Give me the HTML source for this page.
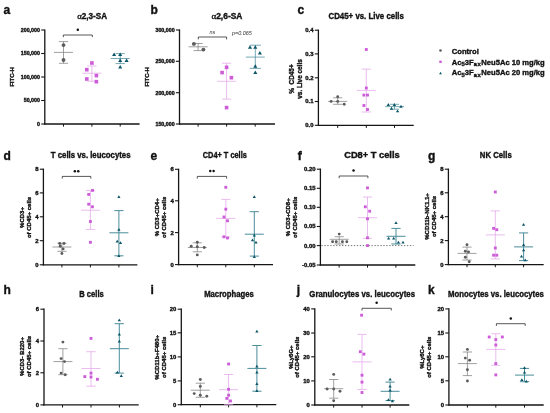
<!DOCTYPE html>
<html><head><meta charset="utf-8"><style>
html,body{margin:0;padding:0;background:#fff;width:550px;height:413px;overflow:hidden;}
svg{display:block;font-family:"Liberation Sans", sans-serif;will-change:transform;}
text{stroke:#111;stroke-width:0.36px;paint-order:stroke;}
</style></head><body>
<svg width="550" height="413" viewBox="0 0 550 413">
<rect width="550" height="413" fill="#fff"/>
<text x="3.6" y="13.6" font-size="12" text-anchor="start" font-weight="bold" font-style="normal" fill="#111111">a</text>
<text x="77.2" y="19.3" font-size="8.3" font-weight="bold" fill="#111111" textLength="29.8" lengthAdjust="spacingAndGlyphs"><tspan font-family="Liberation Serif" font-weight="normal" font-size="9">&#945;</tspan>2,3-SA</text>
<line x1="44.8" y1="29.4" x2="44.8" y2="124.6" stroke="#151515" stroke-width="1.3"/>
<line x1="44.2" y1="124" x2="139.6" y2="124" stroke="#151515" stroke-width="1.3"/>
<line x1="41.2" y1="30" x2="44.8" y2="30" stroke="#151515" stroke-width="1.1"/>
<text x="39.9" y="31.9" font-size="5.3" text-anchor="end" font-weight="bold" font-style="normal" fill="#111111">200,000</text>
<line x1="41.2" y1="53.5" x2="44.8" y2="53.5" stroke="#151515" stroke-width="1.1"/>
<text x="39.9" y="55.4" font-size="5.3" text-anchor="end" font-weight="bold" font-style="normal" fill="#111111">150,000</text>
<line x1="41.2" y1="77" x2="44.8" y2="77" stroke="#151515" stroke-width="1.1"/>
<text x="39.9" y="78.9" font-size="5.3" text-anchor="end" font-weight="bold" font-style="normal" fill="#111111">100,000</text>
<line x1="41.2" y1="100.5" x2="44.8" y2="100.5" stroke="#151515" stroke-width="1.1"/>
<text x="39.9" y="102.4" font-size="5.3" text-anchor="end" font-weight="bold" font-style="normal" fill="#111111">50,000</text>
<line x1="41.2" y1="124" x2="44.8" y2="124" stroke="#151515" stroke-width="1.1"/>
<text x="39.9" y="125.9" font-size="5.3" text-anchor="end" font-weight="bold" font-style="normal" fill="#111111">0</text>
<line x1="63.5" y1="124" x2="63.5" y2="126.6" stroke="#151515" stroke-width="1"/>
<line x1="91.9" y1="124" x2="91.9" y2="126.6" stroke="#151515" stroke-width="1"/>
<line x1="120.2" y1="124" x2="120.2" y2="126.6" stroke="#151515" stroke-width="1"/>
<text x="12.4" y="77" font-size="6" text-anchor="middle" font-weight="bold" font-style="normal" fill="#111111" transform="rotate(-90 12.4 77)" dominant-baseline="central">FITC-H</text>
<path d="M63.3 37.2 V35 H92.3 V37.2" fill="none" stroke="#262626" stroke-width="0.78"/>
<circle cx="77.8" cy="29.7" r="1.25" fill="#111"/>
<line x1="63.5" y1="41.6" x2="63.5" y2="63.3" stroke="#828282" stroke-width="0.75"/>
<line x1="58.9" y1="41.6" x2="68.1" y2="41.6" stroke="#828282" stroke-width="0.75"/>
<line x1="58.9" y1="63.3" x2="68.1" y2="63.3" stroke="#828282" stroke-width="0.75"/>
<line x1="54" y1="52.4" x2="73" y2="52.4" stroke="#828282" stroke-width="0.75"/>
<circle cx="63.5" cy="45.1" r="1.95" fill="#5c5c5c"/>
<circle cx="63.5" cy="60" r="1.95" fill="#5c5c5c"/>
<line x1="91.9" y1="66" x2="91.9" y2="81.2" stroke="#e3a6ea" stroke-width="0.75"/>
<line x1="87.3" y1="66" x2="96.5" y2="66" stroke="#e3a6ea" stroke-width="0.75"/>
<line x1="87.3" y1="81.2" x2="96.5" y2="81.2" stroke="#e3a6ea" stroke-width="0.75"/>
<line x1="82.4" y1="73.2" x2="101.4" y2="73.2" stroke="#e3a6ea" stroke-width="0.75"/>
<rect x="90.09" y="61.2" width="3.61" height="3.61" fill="#cc5cd8"/>
<rect x="84.99" y="67.89" width="3.61" height="3.61" fill="#cc5cd8"/>
<rect x="94.59" y="73.79" width="3.61" height="3.61" fill="#cc5cd8"/>
<rect x="84.99" y="77.19" width="3.61" height="3.61" fill="#cc5cd8"/>
<rect x="94.59" y="79.89" width="3.61" height="3.61" fill="#cc5cd8"/>
<line x1="120.2" y1="53.6" x2="120.2" y2="63.6" stroke="#4b8d9b" stroke-width="0.75"/>
<line x1="115.6" y1="53.6" x2="124.8" y2="53.6" stroke="#4b8d9b" stroke-width="0.75"/>
<line x1="115.6" y1="63.6" x2="124.8" y2="63.6" stroke="#4b8d9b" stroke-width="0.75"/>
<line x1="110.7" y1="58.5" x2="129.7" y2="58.5" stroke="#4b8d9b" stroke-width="0.75"/>
<polygon points="114.1,52.41 112.05,55.89 116.15,55.89" fill="#0d5667"/>
<polygon points="120.2,52.41 118.15,55.89 122.25,55.89" fill="#0d5667"/>
<polygon points="120.2,58.41 118.15,61.89 122.25,61.89" fill="#0d5667"/>
<polygon points="126.6,58.41 124.55,61.89 128.65,61.89" fill="#0d5667"/>
<polygon points="120.2,64.91 118.15,68.39 122.25,68.39" fill="#0d5667"/>
<text x="150.6" y="13.6" font-size="12" text-anchor="start" font-weight="bold" font-style="normal" fill="#111111">b</text>
<text x="211.4" y="19.3" font-size="8.3" font-weight="bold" fill="#111111" textLength="31" lengthAdjust="spacingAndGlyphs"><tspan font-family="Liberation Serif" font-weight="normal" font-size="9">&#945;</tspan>2,6-SA</text>
<line x1="179.5" y1="29.4" x2="179.5" y2="124.6" stroke="#151515" stroke-width="1.3"/>
<line x1="178.9" y1="124" x2="275" y2="124" stroke="#151515" stroke-width="1.3"/>
<line x1="175.9" y1="30" x2="179.5" y2="30" stroke="#151515" stroke-width="1.1"/>
<text x="174.6" y="31.9" font-size="5.3" text-anchor="end" font-weight="bold" font-style="normal" fill="#111111">300,000</text>
<line x1="175.9" y1="61.3" x2="179.5" y2="61.3" stroke="#151515" stroke-width="1.1"/>
<text x="174.6" y="63.2" font-size="5.3" text-anchor="end" font-weight="bold" font-style="normal" fill="#111111">250,000</text>
<line x1="175.9" y1="92.7" x2="179.5" y2="92.7" stroke="#151515" stroke-width="1.1"/>
<text x="174.6" y="94.6" font-size="5.3" text-anchor="end" font-weight="bold" font-style="normal" fill="#111111">200,000</text>
<line x1="175.9" y1="124" x2="179.5" y2="124" stroke="#151515" stroke-width="1.1"/>
<text x="174.6" y="125.9" font-size="5.3" text-anchor="end" font-weight="bold" font-style="normal" fill="#111111">150,000</text>
<line x1="198.1" y1="124" x2="198.1" y2="126.6" stroke="#151515" stroke-width="1"/>
<line x1="226.6" y1="124" x2="226.6" y2="126.6" stroke="#151515" stroke-width="1"/>
<line x1="255.2" y1="124" x2="255.2" y2="126.6" stroke="#151515" stroke-width="1"/>
<text x="147.4" y="77" font-size="6" text-anchor="middle" font-weight="bold" font-style="normal" fill="#111111" transform="rotate(-90 147.4 77)" dominant-baseline="central">FITC-H</text>
<path d="M198.3 39.4 V37 H226.6 V39.4" fill="none" stroke="#262626" stroke-width="0.78"/>
<text x="212.4" y="33.6" font-size="5.4" text-anchor="middle" font-weight="normal" font-style="italic" fill="#333" style="stroke:none">ns</text>
<text x="232" y="35.2" font-size="5.4" text-anchor="start" font-weight="normal" font-style="italic" fill="#333" style="stroke:none">p=0.065</text>
<line x1="198.1" y1="43.5" x2="198.1" y2="50.6" stroke="#828282" stroke-width="0.75"/>
<line x1="193.5" y1="43.5" x2="202.7" y2="43.5" stroke="#828282" stroke-width="0.75"/>
<line x1="193.5" y1="50.6" x2="202.7" y2="50.6" stroke="#828282" stroke-width="0.75"/>
<line x1="188.6" y1="46.8" x2="207.6" y2="46.8" stroke="#828282" stroke-width="0.75"/>
<circle cx="193.9" cy="43.9" r="1.95" fill="#5c5c5c"/>
<circle cx="203.4" cy="49.6" r="1.95" fill="#5c5c5c"/>
<line x1="226.6" y1="63.2" x2="226.6" y2="99.1" stroke="#e3a6ea" stroke-width="0.75"/>
<line x1="222" y1="63.2" x2="231.2" y2="63.2" stroke="#e3a6ea" stroke-width="0.75"/>
<line x1="222" y1="99.1" x2="231.2" y2="99.1" stroke="#e3a6ea" stroke-width="0.75"/>
<line x1="217.1" y1="81.3" x2="236.1" y2="81.3" stroke="#e3a6ea" stroke-width="0.75"/>
<rect x="224.79" y="65.49" width="3.61" height="3.61" fill="#cc5cd8"/>
<rect x="220.29" y="70.79" width="3.61" height="3.61" fill="#cc5cd8"/>
<rect x="229.59" y="75.89" width="3.61" height="3.61" fill="#cc5cd8"/>
<rect x="224.79" y="105.79" width="3.61" height="3.61" fill="#cc5cd8"/>
<line x1="255.3" y1="45.2" x2="255.3" y2="68.4" stroke="#4b8d9b" stroke-width="0.75"/>
<line x1="249.7" y1="45.2" x2="260.9" y2="45.2" stroke="#4b8d9b" stroke-width="0.75"/>
<line x1="249.7" y1="68.4" x2="260.9" y2="68.4" stroke="#4b8d9b" stroke-width="0.75"/>
<line x1="245.8" y1="57.1" x2="264.8" y2="57.1" stroke="#4b8d9b" stroke-width="0.75"/>
<polygon points="250,45.21 247.95,48.69 252.05,48.69" fill="#0d5667"/>
<polygon points="255.3,45.21 253.25,48.69 257.35,48.69" fill="#0d5667"/>
<polygon points="259.9,50.91 257.85,54.39 261.95,54.39" fill="#0d5667"/>
<polygon points="255.3,64.21 253.25,67.69 257.35,67.69" fill="#0d5667"/>
<polygon points="255.3,70.61 253.25,74.09 257.35,74.09" fill="#0d5667"/>
<text x="297.6" y="13.6" font-size="12" text-anchor="start" font-weight="bold" font-style="normal" fill="#111111">c</text>
<text x="328.5" y="18.8" font-size="8.3" font-weight="bold" fill="#111111" textLength="75.4" lengthAdjust="spacingAndGlyphs">CD45+ vs. Live cells</text>
<line x1="318.4" y1="29.6" x2="318.4" y2="125.9" stroke="#151515" stroke-width="1.3"/>
<line x1="317.8" y1="125.3" x2="413.7" y2="125.3" stroke="#151515" stroke-width="1.3"/>
<line x1="314.8" y1="30.2" x2="318.4" y2="30.2" stroke="#151515" stroke-width="1.1"/>
<text x="313.5" y="32.1" font-size="5.9" text-anchor="end" font-weight="bold" font-style="normal" fill="#111111">0.4</text>
<line x1="314.8" y1="53.9" x2="318.4" y2="53.9" stroke="#151515" stroke-width="1.1"/>
<text x="313.5" y="55.8" font-size="5.9" text-anchor="end" font-weight="bold" font-style="normal" fill="#111111">0.3</text>
<line x1="314.8" y1="77.8" x2="318.4" y2="77.8" stroke="#151515" stroke-width="1.1"/>
<text x="313.5" y="79.7" font-size="5.9" text-anchor="end" font-weight="bold" font-style="normal" fill="#111111">0.2</text>
<line x1="314.8" y1="101.5" x2="318.4" y2="101.5" stroke="#151515" stroke-width="1.1"/>
<text x="313.5" y="103.4" font-size="5.9" text-anchor="end" font-weight="bold" font-style="normal" fill="#111111">0.1</text>
<line x1="314.8" y1="125.3" x2="318.4" y2="125.3" stroke="#151515" stroke-width="1.1"/>
<text x="313.5" y="127.2" font-size="5.9" text-anchor="end" font-weight="bold" font-style="normal" fill="#111111">0.0</text>
<line x1="337.7" y1="125.3" x2="337.7" y2="127.9" stroke="#151515" stroke-width="1"/>
<line x1="366.3" y1="125.3" x2="366.3" y2="127.9" stroke="#151515" stroke-width="1"/>
<line x1="394.5" y1="125.3" x2="394.5" y2="127.9" stroke="#151515" stroke-width="1"/>
<text x="291.6" y="79" font-size="6.4" text-anchor="middle" font-weight="bold" font-style="normal" fill="#111111" transform="rotate(-90 291.6 79)" dominant-baseline="central">%&#160;&#160;CD45+</text>
<text x="299.4" y="79" font-size="6.4" text-anchor="middle" font-weight="bold" font-style="normal" fill="#111111" transform="rotate(-90 299.4 79)" dominant-baseline="central">vs. Live cells</text>
<line x1="337.7" y1="97.8" x2="337.7" y2="104.3" stroke="#828282" stroke-width="0.75"/>
<line x1="333.1" y1="97.8" x2="342.3" y2="97.8" stroke="#828282" stroke-width="0.75"/>
<line x1="333.1" y1="104.3" x2="342.3" y2="104.3" stroke="#828282" stroke-width="0.75"/>
<line x1="328.2" y1="101.4" x2="347.2" y2="101.4" stroke="#828282" stroke-width="0.75"/>
<circle cx="337.7" cy="96.8" r="1.45" fill="#5c5c5c"/>
<circle cx="331.1" cy="101.4" r="1.45" fill="#5c5c5c"/>
<circle cx="337.7" cy="101.4" r="1.45" fill="#5c5c5c"/>
<circle cx="344.2" cy="104.3" r="1.45" fill="#5c5c5c"/>
<line x1="366.3" y1="69.1" x2="366.3" y2="112" stroke="#e3a6ea" stroke-width="0.75"/>
<line x1="361.7" y1="69.1" x2="370.9" y2="69.1" stroke="#e3a6ea" stroke-width="0.75"/>
<line x1="361.7" y1="112" x2="370.9" y2="112" stroke="#e3a6ea" stroke-width="0.75"/>
<line x1="356.8" y1="90.4" x2="375.8" y2="90.4" stroke="#e3a6ea" stroke-width="0.75"/>
<rect x="364.88" y="48.08" width="2.85" height="2.85" fill="#cc5cd8"/>
<rect x="364.88" y="86.58" width="2.85" height="2.85" fill="#cc5cd8"/>
<rect x="362.47" y="93.67" width="2.85" height="2.85" fill="#cc5cd8"/>
<rect x="366.07" y="93.67" width="2.85" height="2.85" fill="#cc5cd8"/>
<rect x="362.47" y="104.08" width="2.85" height="2.85" fill="#cc5cd8"/>
<rect x="366.07" y="108.08" width="2.85" height="2.85" fill="#cc5cd8"/>
<line x1="394.5" y1="104.3" x2="394.5" y2="109.2" stroke="#4b8d9b" stroke-width="0.75"/>
<line x1="389.9" y1="104.3" x2="399.1" y2="104.3" stroke="#4b8d9b" stroke-width="0.75"/>
<line x1="389.9" y1="109.2" x2="399.1" y2="109.2" stroke="#4b8d9b" stroke-width="0.75"/>
<line x1="385" y1="106.6" x2="404" y2="106.6" stroke="#4b8d9b" stroke-width="0.75"/>
<polygon points="388.3,103.09 386.62,105.94 389.98,105.94" fill="#0d5667"/>
<polygon points="394.4,103.09 392.72,105.94 396.08,105.94" fill="#0d5667"/>
<polygon points="401,104.79 399.32,107.64 402.68,107.64" fill="#0d5667"/>
<polygon points="391.5,106.79 389.82,109.64 393.18,109.64" fill="#0d5667"/>
<polygon points="397.6,109.49 395.92,112.34 399.28,112.34" fill="#0d5667"/>
<circle cx="440.5" cy="50.5" r="1.3" fill="#5c5c5c"/>
<rect x="439.3" y="60.6" width="2.4" height="2.4" fill="#cc5cd8"/>
<polygon points="440.5,71.77 439.1,74.15 441.9,74.15" fill="#0d5667"/>
<text x="451.8" y="53.8" font-size="7.6" text-anchor="start" font-weight="bold" font-style="normal" fill="#111111">Control</text>
<text x="451.8" y="64.5" font-size="7.6" font-weight="bold" fill="#111111">Ac<tspan font-size="5.9" dy="1.9">5</tspan><tspan dy="-1.9">3F</tspan><tspan font-size="5.9" dy="1.9" letter-spacing="0.55">ax</tspan><tspan dy="-1.9">Neu5Ac 10 mg/kg</tspan></text>
<text x="451.8" y="75.4" font-size="7.6" font-weight="bold" fill="#111111">Ac<tspan font-size="5.9" dy="1.9">5</tspan><tspan dy="-1.9">3F</tspan><tspan font-size="5.9" dy="1.9" letter-spacing="0.55">ax</tspan><tspan dy="-1.9">Neu5Ac 20 mg/kg</tspan></text>
<text x="3.6" y="159.5" font-size="12" text-anchor="start" font-weight="bold" font-style="normal" fill="#111111">d</text>
<text x="50.8" y="157.6" font-size="8.3" font-weight="bold" fill="#111111" textLength="79.7" lengthAdjust="spacingAndGlyphs">T cells vs. leucocytes</text>
<line x1="43.4" y1="168.6" x2="43.4" y2="265.4" stroke="#151515" stroke-width="1.3"/>
<line x1="42.8" y1="264.8" x2="137.4" y2="264.8" stroke="#151515" stroke-width="1.3"/>
<line x1="39.8" y1="169.2" x2="43.4" y2="169.2" stroke="#151515" stroke-width="1.1"/>
<text x="38.5" y="171.1" font-size="5.9" text-anchor="end" font-weight="bold" font-style="normal" fill="#111111">8</text>
<line x1="39.8" y1="192.9" x2="43.4" y2="192.9" stroke="#151515" stroke-width="1.1"/>
<text x="38.5" y="194.8" font-size="5.9" text-anchor="end" font-weight="bold" font-style="normal" fill="#111111">6</text>
<line x1="39.8" y1="216.8" x2="43.4" y2="216.8" stroke="#151515" stroke-width="1.1"/>
<text x="38.5" y="218.7" font-size="5.9" text-anchor="end" font-weight="bold" font-style="normal" fill="#111111">4</text>
<line x1="39.8" y1="240.7" x2="43.4" y2="240.7" stroke="#151515" stroke-width="1.1"/>
<text x="38.5" y="242.6" font-size="5.9" text-anchor="end" font-weight="bold" font-style="normal" fill="#111111">2</text>
<line x1="39.8" y1="264.8" x2="43.4" y2="264.8" stroke="#151515" stroke-width="1.1"/>
<text x="38.5" y="266.7" font-size="5.9" text-anchor="end" font-weight="bold" font-style="normal" fill="#111111">0</text>
<line x1="61.9" y1="264.8" x2="61.9" y2="267.4" stroke="#151515" stroke-width="1"/>
<line x1="90.4" y1="264.8" x2="90.4" y2="267.4" stroke="#151515" stroke-width="1"/>
<line x1="118.9" y1="264.8" x2="118.9" y2="267.4" stroke="#151515" stroke-width="1"/>
<text x="21.6" y="217.5" font-size="6" text-anchor="middle" font-weight="bold" font-style="normal" fill="#111111" transform="rotate(-90 21.6 217.5)" dominant-baseline="central">%CD3+</text>
<text x="28.6" y="217.5" font-size="6" text-anchor="middle" font-weight="bold" font-style="normal" fill="#111111" transform="rotate(-90 28.6 217.5)" dominant-baseline="central">of CD45+ cells</text>
<path d="M62.3 178.6 V176.4 H90.8 V178.6" fill="none" stroke="#262626" stroke-width="0.78"/>
<circle cx="74.85" cy="171.2" r="1.25" fill="#111"/>
<circle cx="78.25" cy="171.2" r="1.25" fill="#111"/>
<line x1="61.9" y1="243.2" x2="61.9" y2="251.3" stroke="#828282" stroke-width="0.75"/>
<line x1="57.3" y1="243.2" x2="66.5" y2="243.2" stroke="#828282" stroke-width="0.75"/>
<line x1="57.3" y1="251.3" x2="66.5" y2="251.3" stroke="#828282" stroke-width="0.75"/>
<line x1="52.4" y1="247" x2="71.4" y2="247" stroke="#828282" stroke-width="0.75"/>
<circle cx="59.7" cy="243.5" r="1.45" fill="#5c5c5c"/>
<circle cx="64" cy="243.5" r="1.45" fill="#5c5c5c"/>
<circle cx="60.2" cy="246.3" r="1.45" fill="#5c5c5c"/>
<circle cx="63.1" cy="248.9" r="1.45" fill="#5c5c5c"/>
<circle cx="61.9" cy="253.5" r="1.45" fill="#5c5c5c"/>
<line x1="90.4" y1="190.6" x2="90.4" y2="229.4" stroke="#e3a6ea" stroke-width="0.75"/>
<line x1="85.8" y1="190.6" x2="95" y2="190.6" stroke="#e3a6ea" stroke-width="0.75"/>
<line x1="85.8" y1="229.4" x2="95" y2="229.4" stroke="#e3a6ea" stroke-width="0.75"/>
<line x1="80.9" y1="210.2" x2="99.9" y2="210.2" stroke="#e3a6ea" stroke-width="0.75"/>
<rect x="91.08" y="188.97" width="2.85" height="2.85" fill="#cc5cd8"/>
<rect x="87.28" y="192.97" width="2.85" height="2.85" fill="#cc5cd8"/>
<rect x="87.28" y="202.77" width="2.85" height="2.85" fill="#cc5cd8"/>
<rect x="90.98" y="205.38" width="2.85" height="2.85" fill="#cc5cd8"/>
<rect x="88.98" y="220.07" width="2.85" height="2.85" fill="#cc5cd8"/>
<rect x="88.98" y="240.88" width="2.85" height="2.85" fill="#cc5cd8"/>
<line x1="118.9" y1="210.6" x2="118.9" y2="255.8" stroke="#4b8d9b" stroke-width="1"/>
<line x1="114.3" y1="210.6" x2="123.5" y2="210.6" stroke="#4b8d9b" stroke-width="1"/>
<line x1="114.3" y1="255.8" x2="123.5" y2="255.8" stroke="#4b8d9b" stroke-width="1"/>
<line x1="109.4" y1="232.8" x2="128.4" y2="232.8" stroke="#4b8d9b" stroke-width="1"/>
<polygon points="118.9,195.14 117.27,197.91 120.53,197.91" fill="#0d5667"/>
<polygon points="118.9,228.04 117.27,230.81 120.53,230.81" fill="#0d5667"/>
<polygon points="117.2,239.84 115.57,242.61 118.83,242.61" fill="#0d5667"/>
<polygon points="120.5,241.14 118.87,243.91 122.13,243.91" fill="#0d5667"/>
<polygon points="118.9,254.14 117.27,256.91 120.53,256.91" fill="#0d5667"/>
<text x="150.4" y="159.5" font-size="12" text-anchor="start" font-weight="bold" font-style="normal" fill="#111111">e</text>
<text x="202.8" y="157.6" font-size="8.3" font-weight="bold" fill="#111111" textLength="44" lengthAdjust="spacingAndGlyphs">CD4+ T cells</text>
<line x1="178.6" y1="168.7" x2="178.6" y2="265.2" stroke="#151515" stroke-width="1.3"/>
<line x1="178" y1="264.6" x2="273" y2="264.6" stroke="#151515" stroke-width="1.3"/>
<line x1="175" y1="169.3" x2="178.6" y2="169.3" stroke="#151515" stroke-width="1.1"/>
<text x="173.7" y="171.2" font-size="5.9" text-anchor="end" font-weight="bold" font-style="normal" fill="#111111">6</text>
<line x1="175" y1="200.8" x2="178.6" y2="200.8" stroke="#151515" stroke-width="1.1"/>
<text x="173.7" y="202.7" font-size="5.9" text-anchor="end" font-weight="bold" font-style="normal" fill="#111111">4</text>
<line x1="175" y1="232.6" x2="178.6" y2="232.6" stroke="#151515" stroke-width="1.1"/>
<text x="173.7" y="234.5" font-size="5.9" text-anchor="end" font-weight="bold" font-style="normal" fill="#111111">2</text>
<line x1="175" y1="264.6" x2="178.6" y2="264.6" stroke="#151515" stroke-width="1.1"/>
<text x="173.7" y="266.5" font-size="5.9" text-anchor="end" font-weight="bold" font-style="normal" fill="#111111">0</text>
<line x1="197.3" y1="264.6" x2="197.3" y2="267.2" stroke="#151515" stroke-width="1"/>
<line x1="225.8" y1="264.6" x2="225.8" y2="267.2" stroke="#151515" stroke-width="1"/>
<line x1="254.3" y1="264.6" x2="254.3" y2="267.2" stroke="#151515" stroke-width="1"/>
<text x="157" y="217.3" font-size="6" text-anchor="middle" font-weight="bold" font-style="normal" fill="#111111" transform="rotate(-90 157 217.3)" dominant-baseline="central">% CD3+CD4+</text>
<text x="163.6" y="217.3" font-size="6" text-anchor="middle" font-weight="bold" font-style="normal" fill="#111111" transform="rotate(-90 163.6 217.3)" dominant-baseline="central">of CD45+ cells</text>
<path d="M197.3 178.6 V176.4 H226.6 V178.6" fill="none" stroke="#262626" stroke-width="0.78"/>
<circle cx="210.25" cy="170.9" r="1.25" fill="#111"/>
<circle cx="213.65" cy="170.9" r="1.25" fill="#111"/>
<line x1="197.3" y1="242.8" x2="197.3" y2="251.8" stroke="#828282" stroke-width="0.75"/>
<line x1="192.7" y1="242.8" x2="201.9" y2="242.8" stroke="#828282" stroke-width="0.75"/>
<line x1="192.7" y1="251.8" x2="201.9" y2="251.8" stroke="#828282" stroke-width="0.75"/>
<line x1="187.8" y1="247.5" x2="206.8" y2="247.5" stroke="#828282" stroke-width="0.75"/>
<circle cx="197.3" cy="242.3" r="1.45" fill="#5c5c5c"/>
<circle cx="191.2" cy="246.3" r="1.45" fill="#5c5c5c"/>
<circle cx="197.3" cy="246.8" r="1.45" fill="#5c5c5c"/>
<circle cx="204.2" cy="247.5" r="1.45" fill="#5c5c5c"/>
<circle cx="197.3" cy="254.9" r="1.45" fill="#5c5c5c"/>
<line x1="225.8" y1="199.4" x2="225.8" y2="237.1" stroke="#e3a6ea" stroke-width="0.75"/>
<line x1="221.2" y1="199.4" x2="230.4" y2="199.4" stroke="#e3a6ea" stroke-width="0.75"/>
<line x1="221.2" y1="237.1" x2="230.4" y2="237.1" stroke="#e3a6ea" stroke-width="0.75"/>
<line x1="216.3" y1="218.4" x2="235.3" y2="218.4" stroke="#e3a6ea" stroke-width="0.75"/>
<rect x="224.38" y="185.88" width="2.85" height="2.85" fill="#cc5cd8"/>
<rect x="224.38" y="207.77" width="2.85" height="2.85" fill="#cc5cd8"/>
<rect x="222.57" y="215.57" width="2.85" height="2.85" fill="#cc5cd8"/>
<rect x="226.07" y="219.38" width="2.85" height="2.85" fill="#cc5cd8"/>
<rect x="222.57" y="235.38" width="2.85" height="2.85" fill="#cc5cd8"/>
<rect x="226.07" y="236.57" width="2.85" height="2.85" fill="#cc5cd8"/>
<line x1="254.3" y1="211.7" x2="254.3" y2="256.1" stroke="#4b8d9b" stroke-width="1"/>
<line x1="249.7" y1="211.7" x2="258.9" y2="211.7" stroke="#4b8d9b" stroke-width="1"/>
<line x1="249.7" y1="256.1" x2="258.9" y2="256.1" stroke="#4b8d9b" stroke-width="1"/>
<line x1="244.8" y1="234.2" x2="263.8" y2="234.2" stroke="#4b8d9b" stroke-width="1"/>
<polygon points="254.3,195.14 252.67,197.91 255.93,197.91" fill="#0d5667"/>
<polygon points="254.3,233.74 252.67,236.51 255.93,236.51" fill="#0d5667"/>
<polygon points="252.5,238.54 250.87,241.31 254.13,241.31" fill="#0d5667"/>
<polygon points="256,240.64 254.37,243.41 257.63,243.41" fill="#0d5667"/>
<polygon points="254.3,255.34 252.67,258.11 255.93,258.11" fill="#0d5667"/>
<text x="297.8" y="159.5" font-size="12" text-anchor="start" font-weight="bold" font-style="normal" fill="#111111">f</text>
<text x="344.2" y="157.6" font-size="8.3" font-weight="bold" fill="#111111" textLength="55.5" lengthAdjust="spacingAndGlyphs">CD8+ T cells</text>
<line x1="320.4" y1="168.6" x2="320.4" y2="265.6" stroke="#151515" stroke-width="1.3"/>
<line x1="319.8" y1="265" x2="415.3" y2="265" stroke="#151515" stroke-width="1.3"/>
<line x1="316.8" y1="169.2" x2="320.4" y2="169.2" stroke="#151515" stroke-width="1.1"/>
<text x="315.5" y="171.1" font-size="5.9" text-anchor="end" font-weight="bold" font-style="normal" fill="#111111">0.20</text>
<line x1="316.8" y1="188.3" x2="320.4" y2="188.3" stroke="#151515" stroke-width="1.1"/>
<text x="315.5" y="190.2" font-size="5.9" text-anchor="end" font-weight="bold" font-style="normal" fill="#111111">0.15</text>
<line x1="316.8" y1="207.3" x2="320.4" y2="207.3" stroke="#151515" stroke-width="1.1"/>
<text x="315.5" y="209.2" font-size="5.9" text-anchor="end" font-weight="bold" font-style="normal" fill="#111111">0.10</text>
<line x1="316.8" y1="226.5" x2="320.4" y2="226.5" stroke="#151515" stroke-width="1.1"/>
<text x="315.5" y="228.4" font-size="5.9" text-anchor="end" font-weight="bold" font-style="normal" fill="#111111">0.05</text>
<line x1="316.8" y1="245.6" x2="320.4" y2="245.6" stroke="#151515" stroke-width="1.1"/>
<text x="315.5" y="247.5" font-size="5.9" text-anchor="end" font-weight="bold" font-style="normal" fill="#111111">0.00</text>
<line x1="316.8" y1="265" x2="320.4" y2="265" stroke="#151515" stroke-width="1.1"/>
<text x="315.5" y="266.9" font-size="5.9" text-anchor="end" font-weight="bold" font-style="normal" fill="#111111">-0.05</text>
<line x1="339.1" y1="265" x2="339.1" y2="267.6" stroke="#151515" stroke-width="1"/>
<line x1="367.5" y1="265" x2="367.5" y2="267.6" stroke="#151515" stroke-width="1"/>
<line x1="395.9" y1="265" x2="395.9" y2="267.6" stroke="#151515" stroke-width="1"/>
<line x1="321.4" y1="245.6" x2="413.5" y2="245.6" stroke="#555" stroke-width="0.85" stroke-dasharray="1.3 1.65"/>
<text x="288.4" y="217.3" font-size="6" text-anchor="middle" font-weight="bold" font-style="normal" fill="#111111" transform="rotate(-90 288.4 217.3)" dominant-baseline="central">% CD3+CD8+</text>
<text x="295.2" y="217.3" font-size="6" text-anchor="middle" font-weight="bold" font-style="normal" fill="#111111" transform="rotate(-90 295.2 217.3)" dominant-baseline="central">of CD45+ cells</text>
<path d="M339.2 178.2 V176 H367.9 V178.2" fill="none" stroke="#262626" stroke-width="0.78"/>
<circle cx="353.55" cy="170.5" r="1.25" fill="#111"/>
<line x1="339.2" y1="236.7" x2="339.2" y2="244" stroke="#828282" stroke-width="0.75"/>
<line x1="334.6" y1="236.7" x2="343.8" y2="236.7" stroke="#828282" stroke-width="0.75"/>
<line x1="334.6" y1="244" x2="343.8" y2="244" stroke="#828282" stroke-width="0.75"/>
<line x1="329.7" y1="239.3" x2="348.7" y2="239.3" stroke="#828282" stroke-width="0.75"/>
<circle cx="339.2" cy="234.1" r="1.45" fill="#5c5c5c"/>
<circle cx="332.6" cy="241.7" r="1.45" fill="#5c5c5c"/>
<circle cx="336.3" cy="241.7" r="1.45" fill="#5c5c5c"/>
<circle cx="342.4" cy="241.7" r="1.45" fill="#5c5c5c"/>
<circle cx="346.8" cy="241.7" r="1.45" fill="#5c5c5c"/>
<line x1="367.5" y1="197" x2="367.5" y2="238.4" stroke="#e3a6ea" stroke-width="0.75"/>
<line x1="362.9" y1="197" x2="372.1" y2="197" stroke="#e3a6ea" stroke-width="0.75"/>
<line x1="362.9" y1="238.4" x2="372.1" y2="238.4" stroke="#e3a6ea" stroke-width="0.75"/>
<line x1="358" y1="217.7" x2="377" y2="217.7" stroke="#e3a6ea" stroke-width="0.75"/>
<rect x="366.07" y="186.47" width="2.85" height="2.85" fill="#cc5cd8"/>
<rect x="363.88" y="205.38" width="2.85" height="2.85" fill="#cc5cd8"/>
<rect x="368.27" y="209.77" width="2.85" height="2.85" fill="#cc5cd8"/>
<rect x="366.07" y="217.38" width="2.85" height="2.85" fill="#cc5cd8"/>
<rect x="366.07" y="236.38" width="2.85" height="2.85" fill="#cc5cd8"/>
<rect x="366.07" y="244.17" width="2.85" height="2.85" fill="#cc5cd8"/>
<line x1="396" y1="228.4" x2="396" y2="244" stroke="#4b8d9b" stroke-width="1"/>
<line x1="391.4" y1="228.4" x2="400.6" y2="228.4" stroke="#4b8d9b" stroke-width="1"/>
<line x1="391.4" y1="244" x2="400.6" y2="244" stroke="#4b8d9b" stroke-width="1"/>
<line x1="386.5" y1="236.3" x2="405.5" y2="236.3" stroke="#4b8d9b" stroke-width="1"/>
<polygon points="396,221.34 394.37,224.11 397.63,224.11" fill="#0d5667"/>
<polygon points="388.6,236.64 386.97,239.41 390.23,239.41" fill="#0d5667"/>
<polygon points="393.7,236.64 392.07,239.41 395.33,239.41" fill="#0d5667"/>
<polygon points="398.4,240.64 396.77,243.41 400.03,243.41" fill="#0d5667"/>
<polygon points="403,240.64 401.37,243.41 404.63,243.41" fill="#0d5667"/>
<text x="428" y="159.5" font-size="12" text-anchor="start" font-weight="bold" font-style="normal" fill="#111111">g</text>
<text x="479.8" y="157.6" font-size="8.3" font-weight="bold" fill="#111111" textLength="31.9" lengthAdjust="spacingAndGlyphs">NK Cells</text>
<line x1="448.4" y1="168.6" x2="448.4" y2="265.2" stroke="#151515" stroke-width="1.3"/>
<line x1="447.8" y1="264.6" x2="543.7" y2="264.6" stroke="#151515" stroke-width="1.3"/>
<line x1="444.8" y1="169.2" x2="448.4" y2="169.2" stroke="#151515" stroke-width="1.1"/>
<text x="443.5" y="171.1" font-size="5.9" text-anchor="end" font-weight="bold" font-style="normal" fill="#111111">8</text>
<line x1="444.8" y1="192.8" x2="448.4" y2="192.8" stroke="#151515" stroke-width="1.1"/>
<text x="443.5" y="194.7" font-size="5.9" text-anchor="end" font-weight="bold" font-style="normal" fill="#111111">6</text>
<line x1="444.8" y1="216.7" x2="448.4" y2="216.7" stroke="#151515" stroke-width="1.1"/>
<text x="443.5" y="218.6" font-size="5.9" text-anchor="end" font-weight="bold" font-style="normal" fill="#111111">4</text>
<line x1="444.8" y1="240.6" x2="448.4" y2="240.6" stroke="#151515" stroke-width="1.1"/>
<text x="443.5" y="242.5" font-size="5.9" text-anchor="end" font-weight="bold" font-style="normal" fill="#111111">2</text>
<line x1="444.8" y1="264.6" x2="448.4" y2="264.6" stroke="#151515" stroke-width="1.1"/>
<text x="443.5" y="266.5" font-size="5.9" text-anchor="end" font-weight="bold" font-style="normal" fill="#111111">0</text>
<line x1="467" y1="264.6" x2="467" y2="267.2" stroke="#151515" stroke-width="1"/>
<line x1="495.3" y1="264.6" x2="495.3" y2="267.2" stroke="#151515" stroke-width="1"/>
<line x1="523.6" y1="264.6" x2="523.6" y2="267.2" stroke="#151515" stroke-width="1"/>
<text x="427" y="216.5" font-size="6" text-anchor="middle" font-weight="bold" font-style="normal" fill="#111111" transform="rotate(-90 427 216.5)" dominant-baseline="central">%CD11b-NK1.1+</text>
<text x="433.6" y="216.5" font-size="6" text-anchor="middle" font-weight="bold" font-style="normal" fill="#111111" transform="rotate(-90 433.6 216.5)" dominant-baseline="central">of CD45+ cells</text>
<line x1="467" y1="247.1" x2="467" y2="260" stroke="#828282" stroke-width="0.75"/>
<line x1="462.4" y1="247.1" x2="471.6" y2="247.1" stroke="#828282" stroke-width="0.75"/>
<line x1="462.4" y1="260" x2="471.6" y2="260" stroke="#828282" stroke-width="0.75"/>
<line x1="457.5" y1="253.4" x2="476.5" y2="253.4" stroke="#828282" stroke-width="0.75"/>
<circle cx="467" cy="244.7" r="1.45" fill="#5c5c5c"/>
<circle cx="465.3" cy="251.2" r="1.45" fill="#5c5c5c"/>
<circle cx="468.5" cy="251.9" r="1.45" fill="#5c5c5c"/>
<circle cx="465.3" cy="257.3" r="1.45" fill="#5c5c5c"/>
<circle cx="469.2" cy="261.7" r="1.45" fill="#5c5c5c"/>
<line x1="495.3" y1="210.9" x2="495.3" y2="258.9" stroke="#e3a6ea" stroke-width="0.75"/>
<line x1="490.7" y1="210.9" x2="499.9" y2="210.9" stroke="#e3a6ea" stroke-width="0.75"/>
<line x1="490.7" y1="258.9" x2="499.9" y2="258.9" stroke="#e3a6ea" stroke-width="0.75"/>
<line x1="485.8" y1="234.9" x2="504.8" y2="234.9" stroke="#e3a6ea" stroke-width="0.75"/>
<rect x="493.88" y="190.57" width="2.85" height="2.85" fill="#cc5cd8"/>
<rect x="492.18" y="226.97" width="2.85" height="2.85" fill="#cc5cd8"/>
<rect x="495.38" y="228.27" width="2.85" height="2.85" fill="#cc5cd8"/>
<rect x="493.88" y="246.57" width="2.85" height="2.85" fill="#cc5cd8"/>
<rect x="492.18" y="253.77" width="2.85" height="2.85" fill="#cc5cd8"/>
<rect x="495.38" y="253.77" width="2.85" height="2.85" fill="#cc5cd8"/>
<line x1="523.6" y1="232.9" x2="523.6" y2="260.6" stroke="#4b8d9b" stroke-width="1"/>
<line x1="519" y1="232.9" x2="528.2" y2="232.9" stroke="#4b8d9b" stroke-width="1"/>
<line x1="519" y1="260.6" x2="528.2" y2="260.6" stroke="#4b8d9b" stroke-width="1"/>
<line x1="514.1" y1="246.9" x2="533.1" y2="246.9" stroke="#4b8d9b" stroke-width="1"/>
<polygon points="523.6,223.04 521.97,225.81 525.23,225.81" fill="#0d5667"/>
<polygon points="523.6,243.34 521.97,246.11 525.23,246.11" fill="#0d5667"/>
<polygon points="523.6,248.54 521.97,251.31 525.23,251.31" fill="#0d5667"/>
<polygon points="521.5,254.64 519.87,257.41 523.13,257.41" fill="#0d5667"/>
<polygon points="525.2,258.54 523.57,261.31 526.83,261.31" fill="#0d5667"/>
<text x="3.6" y="294.4" font-size="12" text-anchor="start" font-weight="bold" font-style="normal" fill="#111111">h</text>
<text x="79.3" y="297.3" font-size="8.3" font-weight="bold" fill="#111111" textLength="24.4" lengthAdjust="spacingAndGlyphs">B cells</text>
<line x1="44" y1="308.6" x2="44" y2="405.5" stroke="#151515" stroke-width="1.3"/>
<line x1="43.4" y1="404.9" x2="138.7" y2="404.9" stroke="#151515" stroke-width="1.3"/>
<line x1="40.4" y1="309.2" x2="44" y2="309.2" stroke="#151515" stroke-width="1.1"/>
<text x="39.1" y="311.1" font-size="5.9" text-anchor="end" font-weight="bold" font-style="normal" fill="#111111">6</text>
<line x1="40.4" y1="341" x2="44" y2="341" stroke="#151515" stroke-width="1.1"/>
<text x="39.1" y="342.9" font-size="5.9" text-anchor="end" font-weight="bold" font-style="normal" fill="#111111">4</text>
<line x1="40.4" y1="372.8" x2="44" y2="372.8" stroke="#151515" stroke-width="1.1"/>
<text x="39.1" y="374.7" font-size="5.9" text-anchor="end" font-weight="bold" font-style="normal" fill="#111111">2</text>
<line x1="40.4" y1="404.9" x2="44" y2="404.9" stroke="#151515" stroke-width="1.1"/>
<text x="39.1" y="406.8" font-size="5.9" text-anchor="end" font-weight="bold" font-style="normal" fill="#111111">0</text>
<line x1="62.5" y1="404.9" x2="62.5" y2="407.5" stroke="#151515" stroke-width="1"/>
<line x1="91" y1="404.9" x2="91" y2="407.5" stroke="#151515" stroke-width="1"/>
<line x1="119.4" y1="404.9" x2="119.4" y2="407.5" stroke="#151515" stroke-width="1"/>
<text x="22" y="356.5" font-size="6" text-anchor="middle" font-weight="bold" font-style="normal" fill="#111111" transform="rotate(-90 22 356.5)" dominant-baseline="central">%CD3- B220+</text>
<text x="28.8" y="356.5" font-size="6" text-anchor="middle" font-weight="bold" font-style="normal" fill="#111111" transform="rotate(-90 28.8 356.5)" dominant-baseline="central">of CD45+ cells</text>
<line x1="62.9" y1="348.7" x2="62.9" y2="374.7" stroke="#828282" stroke-width="0.75"/>
<line x1="58.3" y1="348.7" x2="67.5" y2="348.7" stroke="#828282" stroke-width="0.75"/>
<line x1="58.3" y1="374.7" x2="67.5" y2="374.7" stroke="#828282" stroke-width="0.75"/>
<line x1="53.4" y1="361.6" x2="72.4" y2="361.6" stroke="#828282" stroke-width="0.75"/>
<circle cx="62.9" cy="342.1" r="1.45" fill="#5c5c5c"/>
<circle cx="61.1" cy="358.6" r="1.45" fill="#5c5c5c"/>
<circle cx="64.5" cy="361.6" r="1.45" fill="#5c5c5c"/>
<circle cx="61.1" cy="373.1" r="1.45" fill="#5c5c5c"/>
<circle cx="65.2" cy="374.7" r="1.45" fill="#5c5c5c"/>
<line x1="91" y1="351.7" x2="91" y2="386.2" stroke="#e3a6ea" stroke-width="0.75"/>
<line x1="86.4" y1="351.7" x2="95.6" y2="351.7" stroke="#e3a6ea" stroke-width="0.75"/>
<line x1="86.4" y1="386.2" x2="95.6" y2="386.2" stroke="#e3a6ea" stroke-width="0.75"/>
<line x1="81.5" y1="368.5" x2="100.5" y2="368.5" stroke="#e3a6ea" stroke-width="0.75"/>
<rect x="89.58" y="336.97" width="2.85" height="2.85" fill="#cc5cd8"/>
<rect x="89.58" y="371.68" width="2.85" height="2.85" fill="#cc5cd8"/>
<rect x="83.38" y="375.18" width="2.85" height="2.85" fill="#cc5cd8"/>
<rect x="89.58" y="375.57" width="2.85" height="2.85" fill="#cc5cd8"/>
<rect x="95.98" y="377.88" width="2.85" height="2.85" fill="#cc5cd8"/>
<line x1="119.3" y1="323.7" x2="119.3" y2="373.1" stroke="#4b8d9b" stroke-width="1"/>
<line x1="114.7" y1="323.7" x2="123.9" y2="323.7" stroke="#4b8d9b" stroke-width="1"/>
<line x1="114.7" y1="373.1" x2="123.9" y2="373.1" stroke="#4b8d9b" stroke-width="1"/>
<line x1="109.8" y1="348.7" x2="128.8" y2="348.7" stroke="#4b8d9b" stroke-width="1"/>
<polygon points="119.3,318.54 117.67,321.31 120.93,321.31" fill="#0d5667"/>
<polygon points="119.3,332.84 117.67,335.61 120.93,335.61" fill="#0d5667"/>
<polygon points="119.3,339.74 117.67,342.51 120.93,342.51" fill="#0d5667"/>
<polygon points="117.4,370.74 115.77,373.51 119.03,373.51" fill="#0d5667"/>
<polygon points="121.3,374.24 119.67,377.01 122.93,377.01" fill="#0d5667"/>
<text x="150.4" y="294.4" font-size="12" text-anchor="start" font-weight="bold" font-style="normal" fill="#111111">i</text>
<text x="204.2" y="297.3" font-size="8.3" font-weight="bold" fill="#111111" textLength="49.5" lengthAdjust="spacingAndGlyphs">Macrophages</text>
<line x1="181.3" y1="308.6" x2="181.3" y2="405.3" stroke="#151515" stroke-width="1.3"/>
<line x1="180.7" y1="404.7" x2="276.3" y2="404.7" stroke="#151515" stroke-width="1.3"/>
<line x1="177.7" y1="309.2" x2="181.3" y2="309.2" stroke="#151515" stroke-width="1.1"/>
<text x="176.4" y="311.1" font-size="5.9" text-anchor="end" font-weight="bold" font-style="normal" fill="#111111">20</text>
<line x1="177.7" y1="332.8" x2="181.3" y2="332.8" stroke="#151515" stroke-width="1.1"/>
<text x="176.4" y="334.7" font-size="5.9" text-anchor="end" font-weight="bold" font-style="normal" fill="#111111">15</text>
<line x1="177.7" y1="356.9" x2="181.3" y2="356.9" stroke="#151515" stroke-width="1.1"/>
<text x="176.4" y="358.8" font-size="5.9" text-anchor="end" font-weight="bold" font-style="normal" fill="#111111">10</text>
<line x1="177.7" y1="380.9" x2="181.3" y2="380.9" stroke="#151515" stroke-width="1.1"/>
<text x="176.4" y="382.8" font-size="5.9" text-anchor="end" font-weight="bold" font-style="normal" fill="#111111">5</text>
<line x1="177.7" y1="404.7" x2="181.3" y2="404.7" stroke="#151515" stroke-width="1.1"/>
<text x="176.4" y="406.6" font-size="5.9" text-anchor="end" font-weight="bold" font-style="normal" fill="#111111">0</text>
<line x1="200.3" y1="404.7" x2="200.3" y2="407.3" stroke="#151515" stroke-width="1"/>
<line x1="228.6" y1="404.7" x2="228.6" y2="407.3" stroke="#151515" stroke-width="1"/>
<line x1="256.9" y1="404.7" x2="256.9" y2="407.3" stroke="#151515" stroke-width="1"/>
<text x="157" y="357.3" font-size="6" text-anchor="middle" font-weight="bold" font-style="normal" fill="#111111" transform="rotate(-90 157 357.3)" dominant-baseline="central">%CD11b+F480+</text>
<text x="163.6" y="357.3" font-size="6" text-anchor="middle" font-weight="bold" font-style="normal" fill="#111111" transform="rotate(-90 163.6 357.3)" dominant-baseline="central">of CD45+ cells</text>
<line x1="200.3" y1="383.2" x2="200.3" y2="397.3" stroke="#828282" stroke-width="0.75"/>
<line x1="195.7" y1="383.2" x2="204.9" y2="383.2" stroke="#828282" stroke-width="0.75"/>
<line x1="195.7" y1="397.3" x2="204.9" y2="397.3" stroke="#828282" stroke-width="0.75"/>
<line x1="190.8" y1="390.2" x2="209.8" y2="390.2" stroke="#828282" stroke-width="0.75"/>
<circle cx="200.3" cy="379.5" r="1.45" fill="#5c5c5c"/>
<circle cx="200.3" cy="386.4" r="1.45" fill="#5c5c5c"/>
<circle cx="194.2" cy="393.6" r="1.45" fill="#5c5c5c"/>
<circle cx="200.3" cy="395.2" r="1.45" fill="#5c5c5c"/>
<circle cx="206.8" cy="396.3" r="1.45" fill="#5c5c5c"/>
<line x1="228.6" y1="374.5" x2="228.6" y2="404.7" stroke="#e3a6ea" stroke-width="0.75"/>
<line x1="224" y1="374.5" x2="233.2" y2="374.5" stroke="#e3a6ea" stroke-width="0.75"/>
<line x1="224" y1="404.7" x2="233.2" y2="404.7" stroke="#e3a6ea" stroke-width="0.75"/>
<line x1="219.1" y1="389.7" x2="238.1" y2="389.7" stroke="#e3a6ea" stroke-width="0.75"/>
<rect x="227.17" y="362.57" width="2.85" height="2.85" fill="#cc5cd8"/>
<rect x="227.17" y="387.88" width="2.85" height="2.85" fill="#cc5cd8"/>
<rect x="227.17" y="393.77" width="2.85" height="2.85" fill="#cc5cd8"/>
<rect x="225.38" y="396.97" width="2.85" height="2.85" fill="#cc5cd8"/>
<rect x="229.07" y="399.57" width="2.85" height="2.85" fill="#cc5cd8"/>
<line x1="256.9" y1="345.5" x2="256.9" y2="391.2" stroke="#4b8d9b" stroke-width="1"/>
<line x1="252.3" y1="345.5" x2="261.5" y2="345.5" stroke="#4b8d9b" stroke-width="1"/>
<line x1="252.3" y1="391.2" x2="261.5" y2="391.2" stroke="#4b8d9b" stroke-width="1"/>
<line x1="247.4" y1="368.4" x2="266.4" y2="368.4" stroke="#4b8d9b" stroke-width="1"/>
<polygon points="256.9,329.64 255.27,332.41 258.53,332.41" fill="#0d5667"/>
<polygon points="256.9,364.74 255.27,367.51 258.53,367.51" fill="#0d5667"/>
<polygon points="256.9,370.64 255.27,373.41 258.53,373.41" fill="#0d5667"/>
<polygon points="256.9,382.14 255.27,384.91 258.53,384.91" fill="#0d5667"/>
<polygon points="256.9,389.14 255.27,391.91 258.53,391.91" fill="#0d5667"/>
<text x="296.8" y="294.4" font-size="12" text-anchor="start" font-weight="bold" font-style="normal" fill="#111111">j</text>
<text x="309.3" y="297.3" font-size="8.3" font-weight="bold" fill="#111111" textLength="105.7" lengthAdjust="spacingAndGlyphs">Granulocytes vs. leucocytes</text>
<line x1="314.8" y1="308.3" x2="314.8" y2="405.6" stroke="#151515" stroke-width="1.3"/>
<line x1="314.2" y1="405" x2="409.3" y2="405" stroke="#151515" stroke-width="1.3"/>
<line x1="311.2" y1="308.9" x2="314.8" y2="308.9" stroke="#151515" stroke-width="1.1"/>
<text x="309.9" y="310.8" font-size="5.9" text-anchor="end" font-weight="bold" font-style="normal" fill="#111111">40</text>
<line x1="311.2" y1="333" x2="314.8" y2="333" stroke="#151515" stroke-width="1.1"/>
<text x="309.9" y="334.9" font-size="5.9" text-anchor="end" font-weight="bold" font-style="normal" fill="#111111">30</text>
<line x1="311.2" y1="356.8" x2="314.8" y2="356.8" stroke="#151515" stroke-width="1.1"/>
<text x="309.9" y="358.7" font-size="5.9" text-anchor="end" font-weight="bold" font-style="normal" fill="#111111">20</text>
<line x1="311.2" y1="380.9" x2="314.8" y2="380.9" stroke="#151515" stroke-width="1.1"/>
<text x="309.9" y="382.8" font-size="5.9" text-anchor="end" font-weight="bold" font-style="normal" fill="#111111">10</text>
<line x1="311.2" y1="405" x2="314.8" y2="405" stroke="#151515" stroke-width="1.1"/>
<text x="309.9" y="406.9" font-size="5.9" text-anchor="end" font-weight="bold" font-style="normal" fill="#111111">0</text>
<line x1="333.7" y1="405" x2="333.7" y2="407.6" stroke="#151515" stroke-width="1"/>
<line x1="362" y1="405" x2="362" y2="407.6" stroke="#151515" stroke-width="1"/>
<line x1="390.1" y1="405" x2="390.1" y2="407.6" stroke="#151515" stroke-width="1"/>
<text x="291" y="357.2" font-size="6" text-anchor="middle" font-weight="bold" font-style="normal" fill="#111111" transform="rotate(-90 291 357.2)" dominant-baseline="central">%Ly6G+</text>
<text x="297.4" y="357.2" font-size="6" text-anchor="middle" font-weight="bold" font-style="normal" fill="#111111" transform="rotate(-90 297.4 357.2)" dominant-baseline="central">of CD45+ cells</text>
<path d="M362 310.5 V308.3 H391.3 V310.5" fill="none" stroke="#262626" stroke-width="0.78"/>
<circle cx="376.65" cy="302.8" r="1.25" fill="#111"/>
<line x1="333.7" y1="379.5" x2="333.7" y2="398.2" stroke="#828282" stroke-width="0.75"/>
<line x1="329.1" y1="379.5" x2="338.3" y2="379.5" stroke="#828282" stroke-width="0.75"/>
<line x1="329.1" y1="398.2" x2="338.3" y2="398.2" stroke="#828282" stroke-width="0.75"/>
<line x1="324.2" y1="388.7" x2="343.2" y2="388.7" stroke="#828282" stroke-width="0.75"/>
<circle cx="333.7" cy="374.4" r="1.45" fill="#5c5c5c"/>
<circle cx="327.1" cy="389" r="1.45" fill="#5c5c5c"/>
<circle cx="333.7" cy="389" r="1.45" fill="#5c5c5c"/>
<circle cx="340" cy="391.3" r="1.45" fill="#5c5c5c"/>
<circle cx="333.7" cy="400.8" r="1.45" fill="#5c5c5c"/>
<line x1="362" y1="334.4" x2="362" y2="389.6" stroke="#e3a6ea" stroke-width="0.75"/>
<line x1="357.4" y1="334.4" x2="366.6" y2="334.4" stroke="#e3a6ea" stroke-width="0.75"/>
<line x1="357.4" y1="389.6" x2="366.6" y2="389.6" stroke="#e3a6ea" stroke-width="0.75"/>
<line x1="352.5" y1="361.9" x2="371.5" y2="361.9" stroke="#e3a6ea" stroke-width="0.75"/>
<rect x="360.18" y="313.77" width="2.85" height="2.85" fill="#cc5cd8"/>
<rect x="358.88" y="350.27" width="2.85" height="2.85" fill="#cc5cd8"/>
<rect x="362.47" y="352.68" width="2.85" height="2.85" fill="#cc5cd8"/>
<rect x="360.57" y="373.77" width="2.85" height="2.85" fill="#cc5cd8"/>
<rect x="360.57" y="380.68" width="2.85" height="2.85" fill="#cc5cd8"/>
<rect x="360.57" y="391.07" width="2.85" height="2.85" fill="#cc5cd8"/>
<line x1="390.1" y1="382.1" x2="390.1" y2="400.6" stroke="#4b8d9b" stroke-width="1"/>
<line x1="385.5" y1="382.1" x2="394.7" y2="382.1" stroke="#4b8d9b" stroke-width="1"/>
<line x1="385.5" y1="400.6" x2="394.7" y2="400.6" stroke="#4b8d9b" stroke-width="1"/>
<line x1="380.6" y1="391.3" x2="399.6" y2="391.3" stroke="#4b8d9b" stroke-width="1"/>
<polygon points="390.1,377.84 388.47,380.61 391.73,380.61" fill="#0d5667"/>
<polygon points="390.1,384.84 388.47,387.61 391.73,387.61" fill="#0d5667"/>
<polygon points="390.1,388.74 388.47,391.51 391.73,391.51" fill="#0d5667"/>
<polygon points="388.4,398.24 386.77,401.01 390.03,401.01" fill="#0d5667"/>
<polygon points="392.4,399.44 390.77,402.21 394.03,402.21" fill="#0d5667"/>
<text x="428" y="294.4" font-size="12" text-anchor="start" font-weight="bold" font-style="normal" fill="#111111">k</text>
<text x="448.1" y="297.3" font-size="8.3" font-weight="bold" fill="#111111" textLength="95.7" lengthAdjust="spacingAndGlyphs">Monocytes vs. leucocytes</text>
<line x1="448.9" y1="308.3" x2="448.9" y2="405.6" stroke="#151515" stroke-width="1.3"/>
<line x1="448.3" y1="405" x2="543.7" y2="405" stroke="#151515" stroke-width="1.3"/>
<line x1="445.3" y1="308.9" x2="448.9" y2="308.9" stroke="#151515" stroke-width="1.1"/>
<text x="444" y="310.8" font-size="5.9" text-anchor="end" font-weight="bold" font-style="normal" fill="#111111">20</text>
<line x1="445.3" y1="333" x2="448.9" y2="333" stroke="#151515" stroke-width="1.1"/>
<text x="444" y="334.9" font-size="5.9" text-anchor="end" font-weight="bold" font-style="normal" fill="#111111">15</text>
<line x1="445.3" y1="356.8" x2="448.9" y2="356.8" stroke="#151515" stroke-width="1.1"/>
<text x="444" y="358.7" font-size="5.9" text-anchor="end" font-weight="bold" font-style="normal" fill="#111111">10</text>
<line x1="445.3" y1="380.8" x2="448.9" y2="380.8" stroke="#151515" stroke-width="1.1"/>
<text x="444" y="382.7" font-size="5.9" text-anchor="end" font-weight="bold" font-style="normal" fill="#111111">5</text>
<line x1="445.3" y1="405" x2="448.9" y2="405" stroke="#151515" stroke-width="1.1"/>
<text x="444" y="406.9" font-size="5.9" text-anchor="end" font-weight="bold" font-style="normal" fill="#111111">0</text>
<line x1="467.4" y1="405" x2="467.4" y2="407.6" stroke="#151515" stroke-width="1"/>
<line x1="495.8" y1="405" x2="495.8" y2="407.6" stroke="#151515" stroke-width="1"/>
<line x1="524.5" y1="405" x2="524.5" y2="407.6" stroke="#151515" stroke-width="1"/>
<text x="421.9" y="357.2" font-size="6" text-anchor="middle" font-weight="bold" font-style="normal" fill="#111111" transform="rotate(-90 421.9 357.2)" dominant-baseline="central">%Ly6C+</text>
<text x="429.3" y="357.2" font-size="6" text-anchor="middle" font-weight="bold" font-style="normal" fill="#111111" transform="rotate(-90 429.3 357.2)" dominant-baseline="central">of CD45+ cells</text>
<path d="M496.4 325.9 V323.7 H525.2 V325.9" fill="none" stroke="#262626" stroke-width="0.78"/>
<circle cx="510.8" cy="318.6" r="1.25" fill="#111"/>
<line x1="467.4" y1="352" x2="467.4" y2="375.6" stroke="#828282" stroke-width="0.75"/>
<line x1="462.8" y1="352" x2="472" y2="352" stroke="#828282" stroke-width="0.75"/>
<line x1="462.8" y1="375.6" x2="472" y2="375.6" stroke="#828282" stroke-width="0.75"/>
<line x1="457.9" y1="363.6" x2="476.9" y2="363.6" stroke="#828282" stroke-width="0.75"/>
<circle cx="467.4" cy="349.4" r="1.45" fill="#5c5c5c"/>
<circle cx="465.3" cy="358.1" r="1.45" fill="#5c5c5c"/>
<circle cx="469.6" cy="360.3" r="1.45" fill="#5c5c5c"/>
<circle cx="467.4" cy="369.7" r="1.45" fill="#5c5c5c"/>
<circle cx="467.4" cy="381" r="1.45" fill="#5c5c5c"/>
<line x1="495.8" y1="333.7" x2="495.8" y2="365.3" stroke="#e3a6ea" stroke-width="0.75"/>
<line x1="491.2" y1="333.7" x2="500.4" y2="333.7" stroke="#e3a6ea" stroke-width="0.75"/>
<line x1="491.2" y1="365.3" x2="500.4" y2="365.3" stroke="#e3a6ea" stroke-width="0.75"/>
<line x1="486.3" y1="349.4" x2="505.3" y2="349.4" stroke="#e3a6ea" stroke-width="0.75"/>
<rect x="487.77" y="335.57" width="2.85" height="2.85" fill="#cc5cd8"/>
<rect x="500.88" y="335.57" width="2.85" height="2.85" fill="#cc5cd8"/>
<rect x="494.38" y="338.18" width="2.85" height="2.85" fill="#cc5cd8"/>
<rect x="494.38" y="343.57" width="2.85" height="2.85" fill="#cc5cd8"/>
<rect x="494.38" y="362.18" width="2.85" height="2.85" fill="#cc5cd8"/>
<rect x="494.38" y="373.47" width="2.85" height="2.85" fill="#cc5cd8"/>
<line x1="524.5" y1="368.4" x2="524.5" y2="381.7" stroke="#4b8d9b" stroke-width="1"/>
<line x1="519.9" y1="368.4" x2="529.1" y2="368.4" stroke="#4b8d9b" stroke-width="1"/>
<line x1="519.9" y1="381.7" x2="529.1" y2="381.7" stroke="#4b8d9b" stroke-width="1"/>
<line x1="515" y1="375.1" x2="534" y2="375.1" stroke="#4b8d9b" stroke-width="1"/>
<polygon points="524.5,366.24 522.87,369.01 526.13,369.01" fill="#0d5667"/>
<polygon points="524.5,370.64 522.87,373.41 526.13,373.41" fill="#0d5667"/>
<polygon points="521.9,378.24 520.27,381.01 523.53,381.01" fill="#0d5667"/>
<polygon points="526.3,379.74 524.67,382.51 527.93,382.51" fill="#0d5667"/>
</svg>
</body></html>
